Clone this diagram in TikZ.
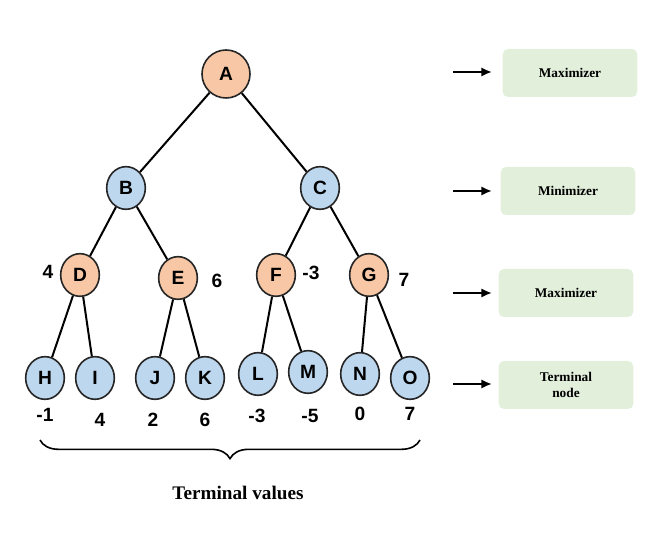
\documentclass[tikz,border=0pt]{standalone}
\usepackage{fontspec}
\setmainfont{Liberation Sans}
\newfontfamily\serifb{Liberation Serif}
\usetikzlibrary{decorations.pathreplacing,arrows.meta,shapes.geometric}
\definecolor{org}{HTML}{F8C8A6}
\definecolor{blu}{HTML}{BDD7EE}
\definecolor{grn}{HTML}{E2EFDA}
\begin{document}
\begin{tikzpicture}[x=0.75pt,y=-0.75pt,
 mx/.style={ellipse,draw=black!85,line width=1.2pt,fill=org,minimum width=29pt,minimum height=32pt,inner sep=0pt,font=\bfseries\Large},
 mn/.style={mx,fill=blu},
 val/.style={font=\bfseries\Large},
 box/.style={fill=grn,rounded corners=4pt,minimum width=101pt,minimum height=36pt,font=\serifb\bfseries\normalsize,align=center},
 arr/.style={-{Latex[length=8pt,width=7pt]},line width=1.6pt},
 edge/.style={line width=1.5pt}]
\useasboundingbox (0,0) rectangle (672,548);
\node[mx,minimum width=36pt,minimum height=36pt] (A) at (226,74) {A};
\node[mn] (B) at (126,188) {B};
\node[mn] (C) at (320,188) {C};
\node[mx] (D) at (80,275) {D};
\node[mx] (E) at (178,278) {E};
\node[mx] (F) at (276,275) {F};
\node[mx] (G) at (369,275) {G};
\foreach \n/\x/\y in {H/45/378,I/95/378,J/155/378,K/205/378,L/258/374,M/308/372,N/360/374,O/410/378}
  \node[mn] (\n) at (\x,\y) {\n};
\foreach \a/\b in {A/B,A/C,B/D,B/E,C/F,C/G,D/H,D/I,E/J,E/K,F/L,F/M,G/N,G/O}
  \draw[edge] (\a) -- (\b);
\foreach \t/\x/\y [count=\i] in {-1/45/415,4/100/420,2/153/420,6/205/420,-3/257/416,-5/310/416,0/360/414,7/410/414}
  \node[val] (v\i) at (\x,\y) {\t};
\node[val] (sD) at (48,272) {4};
\node[val] (sE) at (217,281) {6};
\node[val] (sF) at (311,273) {-3};
\node[val] (sG) at (404,280) {7};
\coordinate (bl) at (40,440);
\coordinate (br) at (420,440);
\draw[line width=1.2pt,decorate,decoration={brace,mirror,amplitude=14pt}] (bl) -- (br);
\node[font=\serifb\bfseries\Large] (tv) at (238,493) {Terminal values};
\node[box] (b1) at (570,73) {Maximizer};
\node[box] (b2) at (568,191) {Minimizer};
\node[box] (b3) at (566,293) {Maximizer};
\node[box] (b4) at (566,385) {Terminal\\node};
\foreach \b/\y in {b1/72,b2/191,b3/293,b4/384}{
  \coordinate (s\b) at (453,\y);
  \coordinate (e\b) at (492,\y);
  \draw[arr] (s\b) -- (e\b);
}
\end{tikzpicture}
\end{document}
